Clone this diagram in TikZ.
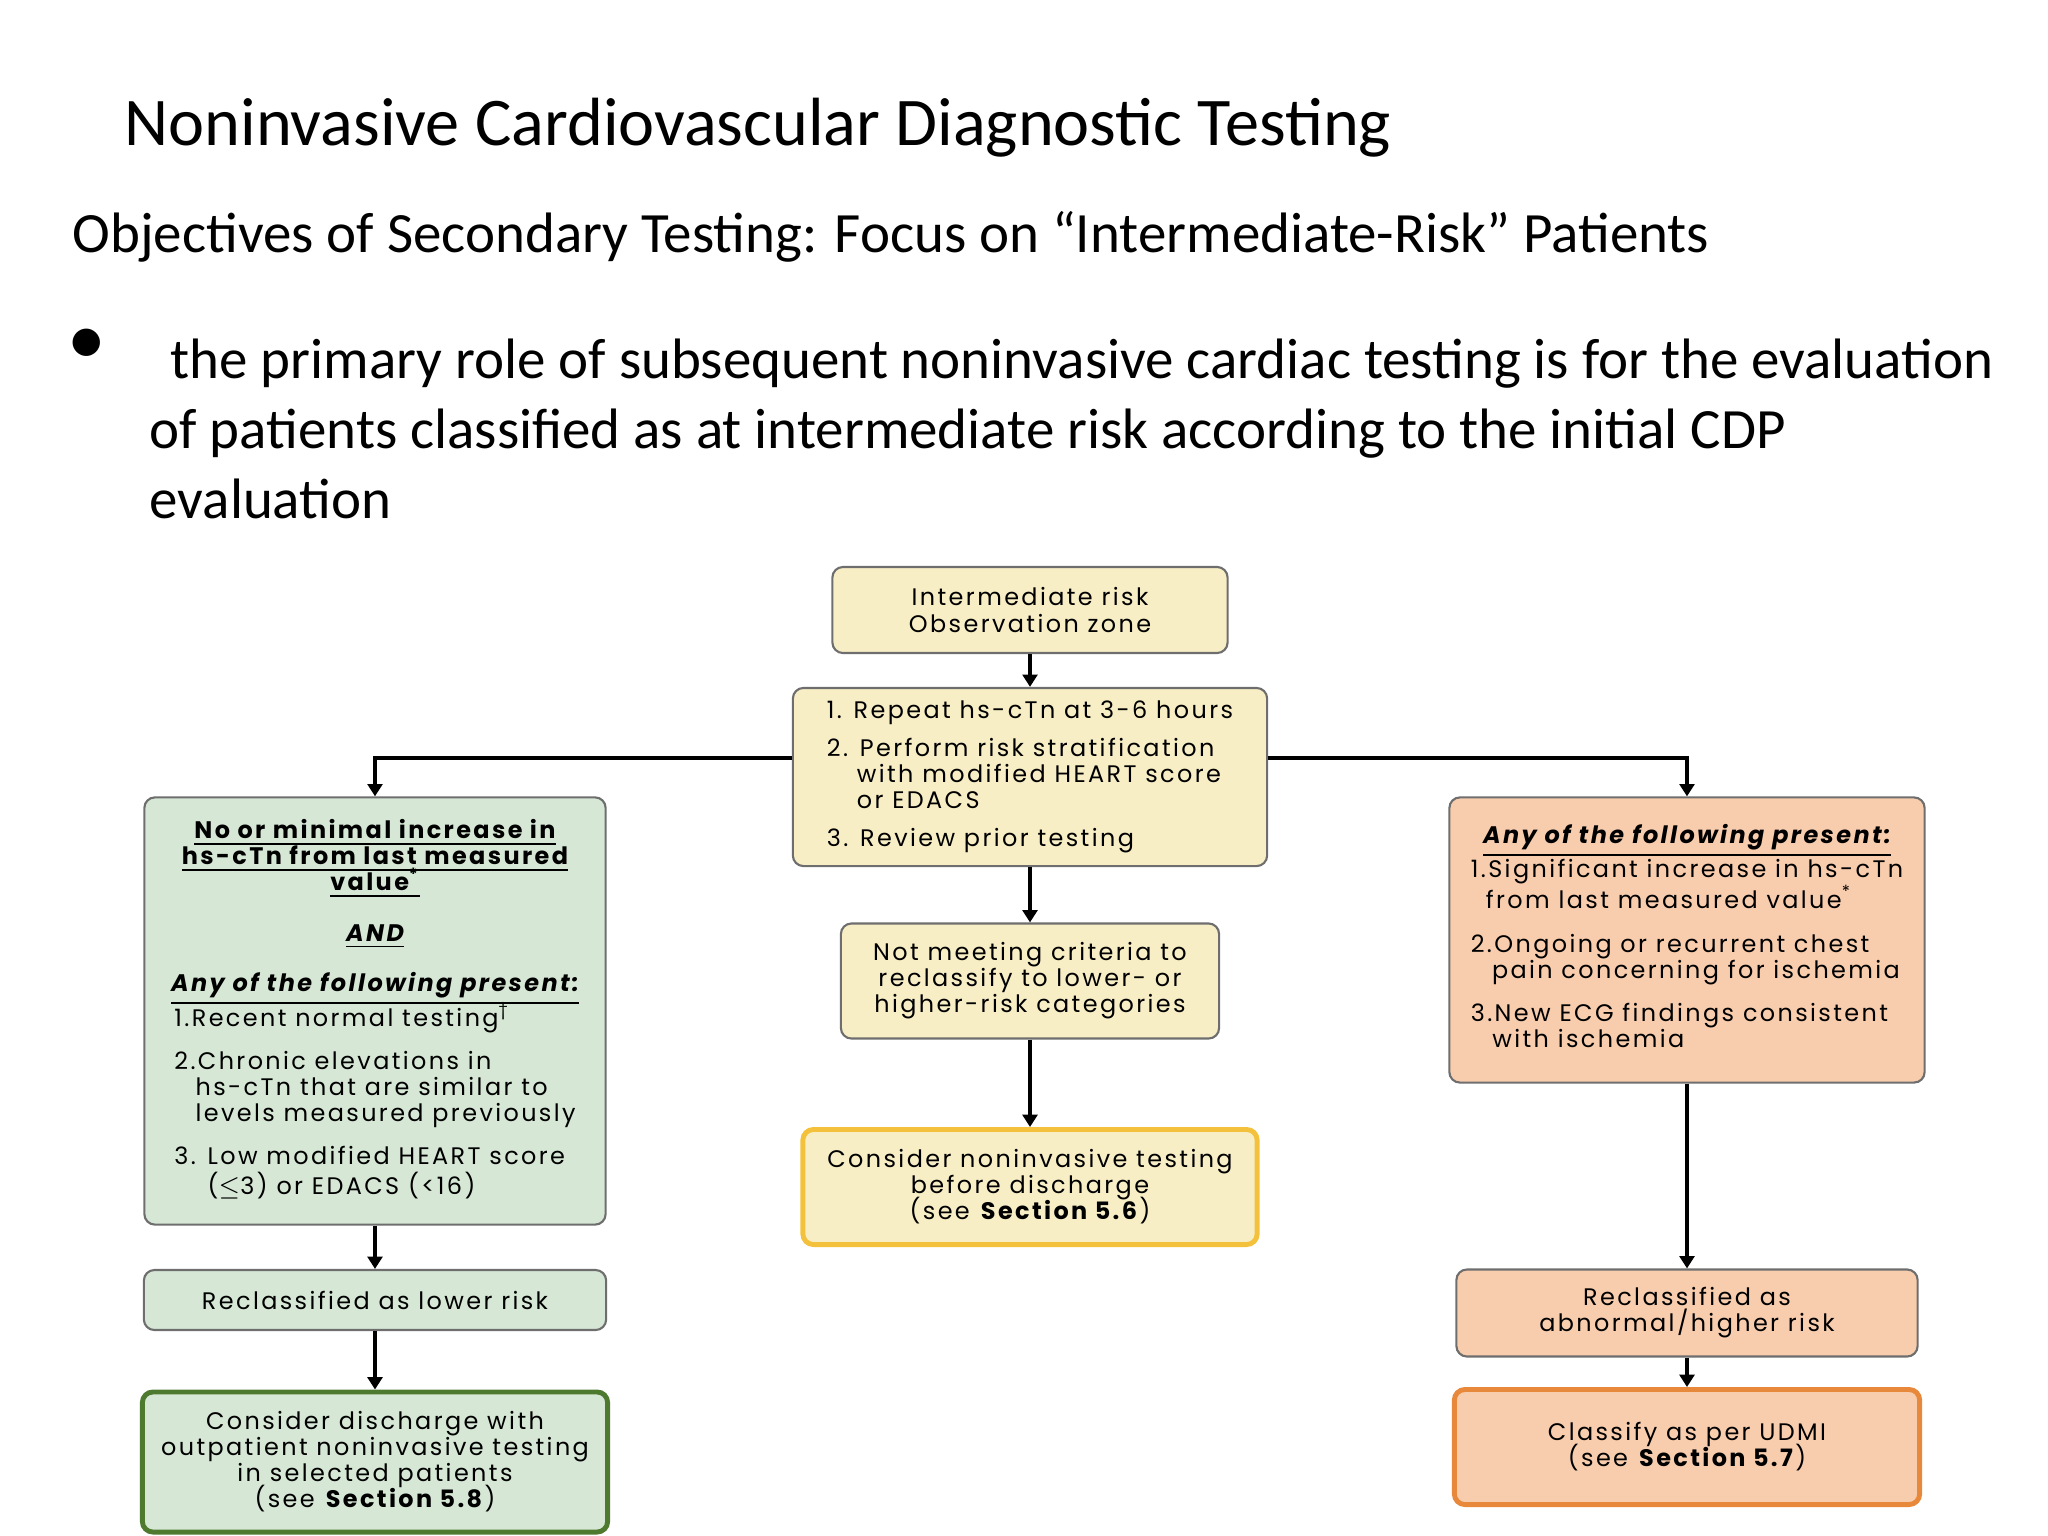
\documentclass[tikz,border=0pt]{standalone}
\usepackage{fontspec}
\setmainfont{Carlito}
\newfontfamily\boxfont[LetterSpace=10]{Poppins}
\usetikzlibrary{arrows.meta}

\definecolor{boxgray}{HTML}{6E6E6E}
\definecolor{yfill}{HTML}{F8EEC6}
\definecolor{gfill}{HTML}{D6E8D5}
\definecolor{ofill}{HTML}{F8CDAE}
\definecolor{golden}{HTML}{F3C13C}
\definecolor{darkgreen}{HTML}{4E7A30}
\definecolor{orangeline}{HTML}{E8883A}

\newcommand\boxtext{\boxfont\fontsize{6.8}{7.4}\selectfont\lineskiplimit=-10pt\relax}
% item list inside a box, with normal line stacking
\newenvironment{itemrows}{\lineskiplimit=0pt\relax\begin{tabular}[t]{@{}l@{}}}{\end{tabular}}

\begin{document}
\begin{tikzpicture}[x=0.01cm, y=-0.01cm, >={Triangle[length=3.5pt,width=4.2pt]},
  box/.style={draw=boxgray, line width=0.6pt, rounded corners=3pt, inner sep=0pt,
    align=center, font=\boxtext},
  ybox/.style={box, fill=yfill},
  gbox/.style={box, fill=gfill},
  obox/.style={box, fill=ofill},
  flow/.style={->, line width=0.9pt},
  slide/.style={anchor=base west, inner sep=0pt, align=left}]

  % --- page size ---
  \useasboundingbox (0,0) rectangle (2048,1536);

  % --- slide text ---
  \node[slide, font=\fontsize{19.4}{23}\selectfont] (title) at (124,145)
    {Noninvasive Cardiovascular Diagnostic Testing};
  \node[slide, font=\fontsize{16.2}{20}\selectfont] (subtitle) at (72,252)
    {Objectives of Secondary Testing: Focus on “Intermediate-Risk” Patients};
  \node[inner sep=0pt, font=\fontsize{22}{24}\selectfont] (dot) at (87,347) {•};
  \node[slide, font=\fontsize{16.2}{19.8}\selectfont] (point) at (149,518)
    {\hspace*{0.21cm}the primary role of subsequent noninvasive cardiac testing is for the evaluation\\
     of patients classified as at intermediate risk according to the initial CDP\\
     evaluation};

  % --- middle column ---
  \node[ybox, minimum width=3.95cm, minimum height=0.86cm] (obs) at (1030,610)
    {Intermediate risk\\ Observation zone};
  \node[ybox, minimum width=4.74cm, minimum height=1.78cm, align=left] (steps) at (1030,777)
    {1. Repeat hs-cTn at 3-6 hours\\[3.4pt]
     2. Perform risk stratification\\
     \phantom{2.\ }with modified HEART score\\
     \phantom{2.\ }or EDACS\\[3.4pt]
     3. Review prior testing};
  \node[ybox, minimum width=3.78cm, minimum height=1.15cm] (notmet) at (1030,981)
    {Not meeting criteria to\\ reclassify to lower- or\\ higher-risk categories};
  \node[ybox, draw=golden, line width=1.4pt, minimum width=4.54cm, minimum height=1.15cm] (testing) at (1030,1187)
    {Consider noninvasive testing\\ before discharge\\ (see \textbf{Section 5.6})};

  % --- left column ---
  \node[gbox, minimum width=4.61cm, minimum height=4.27cm] (lowcrit) at (375,1011)
    {\textbf{\underline{No or minimal increase in}}\\
     \textbf{\underline{hs-cTn from last measured}}\\
     \textbf{\underline{value\textsuperscript{*}}}\\[7pt]
     \textbf{\itshape\underline{AND}}\\[6.8pt]
     \textbf{\itshape\underline{Any of the following present:}}\\[2.6pt]
     {\begin{itemrows}
       1.Recent normal testing\textsuperscript{†}\\[4.8pt]
       2.Chronic elevations in\\
       \phantom{2.}hs-cTn that are similar to\\
       \phantom{2.}levels measured previously\\[4.8pt]
       3. Low modified HEART score\\
       \phantom{3. }($\leq$3) or EDACS (<16)
     \end{itemrows}}};
  \node[gbox, minimum width=4.62cm, minimum height=0.60cm] (lower) at (375,1300)
    {Reclassified as lower risk};
  \node[gbox, draw=darkgreen, line width=1.4pt, minimum width=4.65cm, minimum height=1.40cm] (discharge) at (375,1462)
    {Consider discharge with\\ outpatient noninvasive testing\\ in selected patients\\ (see \textbf{Section 5.8})};

  % --- right column ---
  \node[obox, minimum width=4.75cm, minimum height=2.85cm] (highcrit) at (1687,940)
    {\textbf{\itshape\underline{Any of the following present:}}\\[2.3pt]
     {\begin{itemrows}
       1.Significant increase in hs-cTn\\
       \phantom{1.}from last measured value\textsuperscript{*}\\[5pt]
       2.Ongoing or recurrent chest\\
       \phantom{2.}pain concerning for ischemia\\[5pt]
       3.New ECG findings consistent\\
       \phantom{3.}with ischemia
     \end{itemrows}}};
  \node[obox, minimum width=4.61cm, minimum height=0.87cm] (higher) at (1687,1313)
    {Reclassified as\\ abnormal/higher risk};
  \node[obox, draw=orangeline, line width=1.4pt, minimum width=4.65cm, minimum height=1.15cm] (udmi) at (1687,1447)
    {Classify as per UDMI\\ (see \textbf{Section 5.7})};

  % --- connectors ---
  \coordinate (splitL) at (375,758);
  \coordinate (splitR) at (1687,758);
  \draw[flow] (obs) -- (steps);
  \draw[flow] (steps) -- (notmet);
  \draw[flow] (notmet) -- (testing);
  \draw[flow] (steps.west |- splitL) -| (lowcrit.north);
  \draw[flow] (steps.east |- splitR) -| (highcrit.north);
  \draw[flow] (lowcrit) -- (lower);
  \draw[flow] (lower) -- (discharge);
  \draw[flow] (highcrit) -- (higher);
  \draw[flow] (higher) -- (udmi);

\end{tikzpicture}
\end{document}
